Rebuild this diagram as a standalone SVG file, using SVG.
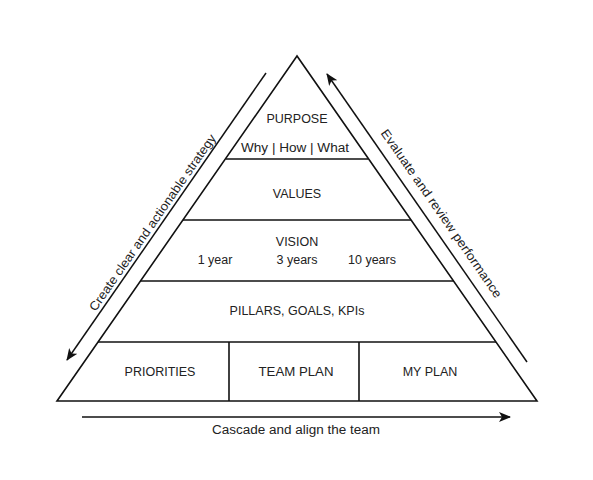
<svg xmlns="http://www.w3.org/2000/svg" width="593" height="480" viewBox="0 0 593 480">
<style>
text{font-family:"Liberation Sans",Arial,sans-serif;font-size:12.5px;fill:#222;text-anchor:middle}
.ln{stroke:#111;stroke-width:1.6;fill:none}
.ar{stroke:#111;stroke-width:1.5;fill:none}
</style>
<defs>
<marker id="ah" viewBox="0 0 12 10" refX="11" refY="5" markerWidth="12" markerHeight="10" markerUnits="userSpaceOnUse" orient="auto">
<path d="M0,0 L12,5 L0,10 L3,5 Z" fill="#111"/>
</marker>
</defs>
<rect width="593" height="480" fill="#fff"/>
<g id="pyramid">
<path class="ln" d="M297,56 L57,401 L537,401 Z" stroke-width="2.2"/>
</g>
<g id="purpose">
<text x="297" y="123">PURPOSE</text>
<text x="295" y="152" textLength="108" lengthAdjust="spacingAndGlyphs">Why | How | What</text>
<line class="ln" x1="226" y1="159" x2="368" y2="159"/>
</g>
<g id="values">
<text x="297" y="198">VALUES</text>
<line class="ln" x1="183" y1="220" x2="411" y2="220"/>
</g>
<g id="vision">
<text x="297" y="246">VISION</text>
<text x="215" y="264">1 year</text>
<text x="297" y="264">3 years</text>
<text x="372" y="264">10 years</text>
<line class="ln" x1="140" y1="281" x2="454" y2="281"/>
</g>
<g id="pillars">
<text x="297" y="315">PILLARS, GOALS, KPIs</text>
<line class="ln" x1="98" y1="342" x2="496" y2="342"/>
</g>
<g id="priorities">
<text x="160" y="376">PRIORITIES</text>
</g>
<g id="teamplan">
<text x="296" y="376" textLength="75" lengthAdjust="spacingAndGlyphs">TEAM PLAN</text>
<line class="ln" x1="229" y1="342" x2="229" y2="401"/>
</g>
<g id="myplan">
<text x="430" y="376">MY PLAN</text>
<line class="ln" x1="359" y1="342" x2="359" y2="401"/>
</g>
<g id="connectors">
<line class="ar" x1="266" y1="73" x2="67" y2="360" marker-end="url(#ah)"/>
<line class="ar" x1="527" y1="362" x2="327" y2="74" marker-end="url(#ah)"/>
<line class="ar" x1="82" y1="417" x2="510" y2="417" marker-end="url(#ah)"/>
</g>
<g id="labels">
<text transform="translate(156,225) rotate(-55.2)" textLength="212" lengthAdjust="spacingAndGlyphs">Create clear and actionable strategy</text>
<text transform="translate(438,216) rotate(55.2)" textLength="202" lengthAdjust="spacingAndGlyphs">Evaluate and review performance</text>
<text x="296" y="434" textLength="168" lengthAdjust="spacingAndGlyphs">Cascade and align the team</text>
</g>
</svg>
